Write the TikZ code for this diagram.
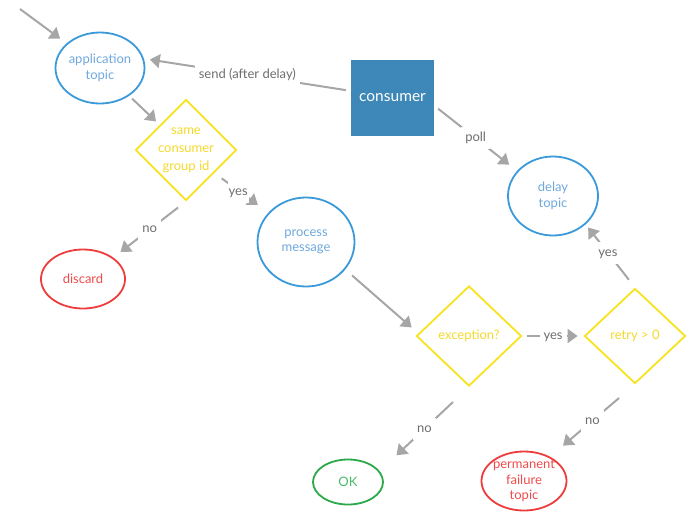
\documentclass[tikz,border=0pt]{standalone}
\usepackage{fontspec}
\setmainfont{Lato}
\usetikzlibrary{shapes.geometric,arrows.meta}

\definecolor{topicline}{HTML}{3A9AD9}
\definecolor{topictext}{HTML}{6FA8DC}
\definecolor{askline}{HTML}{F8E21E}
\definecolor{asktext}{HTML}{F4D92A}
\definecolor{badline}{HTML}{EE3B3B}
\definecolor{badtext}{HTML}{EE4B4B}
\definecolor{okline}{HTML}{2BA84A}
\definecolor{oktext}{HTML}{4CB96A}
\definecolor{boxfill}{HTML}{3D88B8}
\definecolor{arrowgray}{HTML}{A6A6A6}
\definecolor{labelgray}{HTML}{6E6E6E}

\tikzset{
	topic/.style={shape=ellipse,draw=topicline,line width=1.8pt,text=topictext,
		inner sep=-2pt,align=center,font=\fontsize{13}{15.5}\selectfont},
	badend/.style={topic,draw=badline,text=badtext},
	goodend/.style={topic,draw=okline,text=oktext},
	ask/.style={shape=diamond,draw=askline,line width=1.8pt,text=asktext,
		inner sep=-2pt,align=center,font=\fontsize{13}{18}\selectfont},
	worker/.style={shape=rectangle,fill=boxfill,text=white,
		font=\fontsize{15.5}{18}\selectfont},
	arr/.style={draw=arrowgray,line width=2pt,-{Triangle[length=10pt,width=14pt]}},
	lbl/.style={fill=white,text=labelgray,inner xsep=4pt,inner ysep=5pt,
		text height=9.5pt,text depth=2.5pt,font=\fontsize{13}{15}\selectfont}
}

\begin{document}
\begin{tikzpicture}[x=1pt,y=-1pt]
	\useasboundingbox (0,0) rectangle (693,520);

	\coordinate (start) at (20,9);
	\node[topic,minimum width=89pt,minimum height=71pt] (app) at (100,68) {application\\topic};
	\node[ask,minimum width=101pt,minimum height=101pt] (same) at (186,150) {same\\consumer\\group id};
	\node[worker,minimum width=83pt,minimum height=76pt] (cons) at (392.5,97.5) {consumer};
	\node[topic,minimum width=90pt,minimum height=79pt] (delay) at (553,196) {delay\\topic};
	\node[topic,minimum width=97pt,minimum height=89pt] (proc) at (306,242) {process\\message};
	\node[badend,minimum width=84pt,minimum height=59pt] (disc) at (83,279) {discard};
	\node[ask,minimum width=105pt,minimum height=100pt] (exc) at (469,336) {exception?};
	\node[ask,minimum width=101pt,minimum height=95pt] (retry) at (635,336) {retry > 0};
	\node[goodend,minimum width=70pt,minimum height=45pt] (ok) at (348,482) {OK};
	\node[badend,minimum width=85pt,minimum height=59pt] (perm) at (524,481) {permanent\\failure\\topic};

	\path (start) edge[arr,shorten >=8pt] (app);
	\path (app) edge[arr,shorten <=4pt,shorten >=5pt] (same);
	\path (cons.171) edge[arr,shorten <=5pt,shorten >=6pt] node[lbl]{send (after delay)} (app.12);
	\path (cons.-11) edge[arr,shorten <=5pt,shorten >=10pt] node[lbl]{poll} (delay.145);
	\path (same.south) edge[arr,shorten <=10pt,shorten >=9pt] node[lbl]{no} (disc.north east);
	\path (same.-39) edge[arr,shorten <=9pt,shorten >=13pt] node[lbl,pos=0.44,inner xsep=1pt,yshift=-2pt]{yes} (proc.142);
	\path (proc.-35) edge[arr,shorten <=9pt,shorten >=9pt] (exc.177);
	\path (exc.east) edge[arr,shorten <=5pt,shorten >=6pt] node[lbl]{yes} (retry.west);
	\path (retry.north) edge[arr,shorten <=10pt,shorten >=4pt] node[lbl,pos=0.55]{yes} (delay.-41);
	\path (exc.south) edge[arr,shorten <=22pt,shorten >=23pt] node[lbl]{no} (ok.19);
	\path (retry.south) edge[arr,shorten <=21pt,shorten >=17pt] node[lbl]{no} (perm.43);
\end{tikzpicture}
\end{document}
